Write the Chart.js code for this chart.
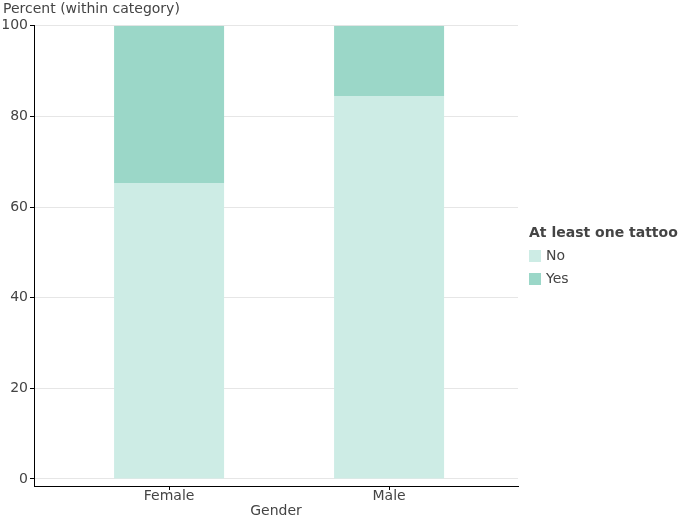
<!DOCTYPE html>
<html>
<head>
<meta charset="utf-8">
<script src="https://cdn.jsdelivr.net/npm/chart.js@4.4.1/dist/chart.umd.min.js"></script>
<style>
  html, body { margin: 0; padding: 0; background: #fff; }
  #wrap { width: 696px; height: 526px; }
</style>
</head>
<body>
<div id="wrap"><canvas id="chart"></canvas></div>
<script>
// Chart data
const categories = ['Female', 'Male'];
const noValues = [65.3, 84.5];
const yesValues = [34.7, 15.5];
const yTicks = [0, 20, 40, 60, 80, 100];
const legendTitle = 'At least one tattoo';

const font = 'DejaVu Sans, Verdana, sans-serif';
const textColor = '#444';

// Draw a plotly-like legend to the right of the plot
const sideLegend = {
    id: 'sideLegend',
    afterDraw(chart) {
        const ctx = chart.ctx;
        const x = chart.chartArea.right + 11;
        ctx.save();
        ctx.textBaseline = 'middle';
        ctx.textAlign = 'left';
        ctx.fillStyle = textColor;
        ctx.font = 'bold 14px ' + font;
        ctx.fillText(legendTitle, x, 233);
        ctx.font = '14px ' + font;
        chart.data.datasets.forEach((ds, i) => {
            const cy = 256 + i * 23;
            ctx.fillStyle = ds.backgroundColor;
            ctx.fillRect(x, cy - 6, 12, 12);
            ctx.fillStyle = textColor;
            ctx.fillText(ds.label, x + 17, cy);
        });
        ctx.restore();
    }
};

function initializeChart() {
    const ctx = document.getElementById('chart').getContext('2d');
    new Chart(ctx, {
        type: 'bar',
        data: {
            datasets: [
                { label: 'No', stack: 's', data: noValues.map((v, i) => ({ x: i, y: v })), backgroundColor: '#cdece5' },
                { label: 'Yes', stack: 's', data: yesValues.map((v, i) => ({ x: i, y: v })), backgroundColor: '#9bd7c8' }
            ]
        },
        options: {
            responsive: true,
            maintainAspectRatio: false,
            animation: false,
            categoryPercentage: 1,
            barPercentage: 0.5,
            layout: { padding: { left: 3, right: 178, top: 0, bottom: 6 } },
            plugins: {
                legend: { display: false },
                tooltip: { enabled: false },
                title: {
                    display: true,
                    text: 'Percent (within category)',
                    align: 'start',
                    color: textColor,
                    font: { family: font, size: 14, weight: 'normal' },
                    padding: { top: 1, bottom: 8 }
                }
            },
            scales: {
                x: {
                    type: 'linear',
                    stacked: true,
                    offset: false,
                    min: -0.614,
                    max: 1.586,
                    afterBuildTicks: s => { s.ticks = categories.map((c, i) => ({ value: i })); },
                    afterFit: s => { s.height = 34; },
                    ticks: {
                        callback: v => categories[v],
                        color: textColor,
                        font: { family: font, size: 14 },
                        padding: -2,
                        maxRotation: 0
                    },
                    grid: { offset: false, drawOnChartArea: false, drawTicks: true, tickLength: 4, tickColor: '#000' },
                    border: { display: true, color: '#000', width: 1 },
                    title: {
                        display: true,
                        text: 'Gender',
                        color: textColor,
                        font: { family: font, size: 14 },
                        padding: { top: 0, bottom: 0 }
                    }
                },
                y: {
                    stacked: true,
                    min: -1.55,
                    max: 100,
                    afterBuildTicks: s => { s.ticks = yTicks.map(v => ({ value: v })); },
                    afterFit: s => { s.width = 31; },
                    ticks: {
                        color: textColor,
                        font: { family: font, size: 14 },
                        padding: 2
                    },
                    grid: { color: '#e6e6e6', tickLength: 4, tickColor: '#000' },
                    border: { display: true, color: '#000', width: 1 }
                }
            }
        },
        plugins: [sideLegend]
    });
}

initializeChart();
</script>
</body>
</html>
